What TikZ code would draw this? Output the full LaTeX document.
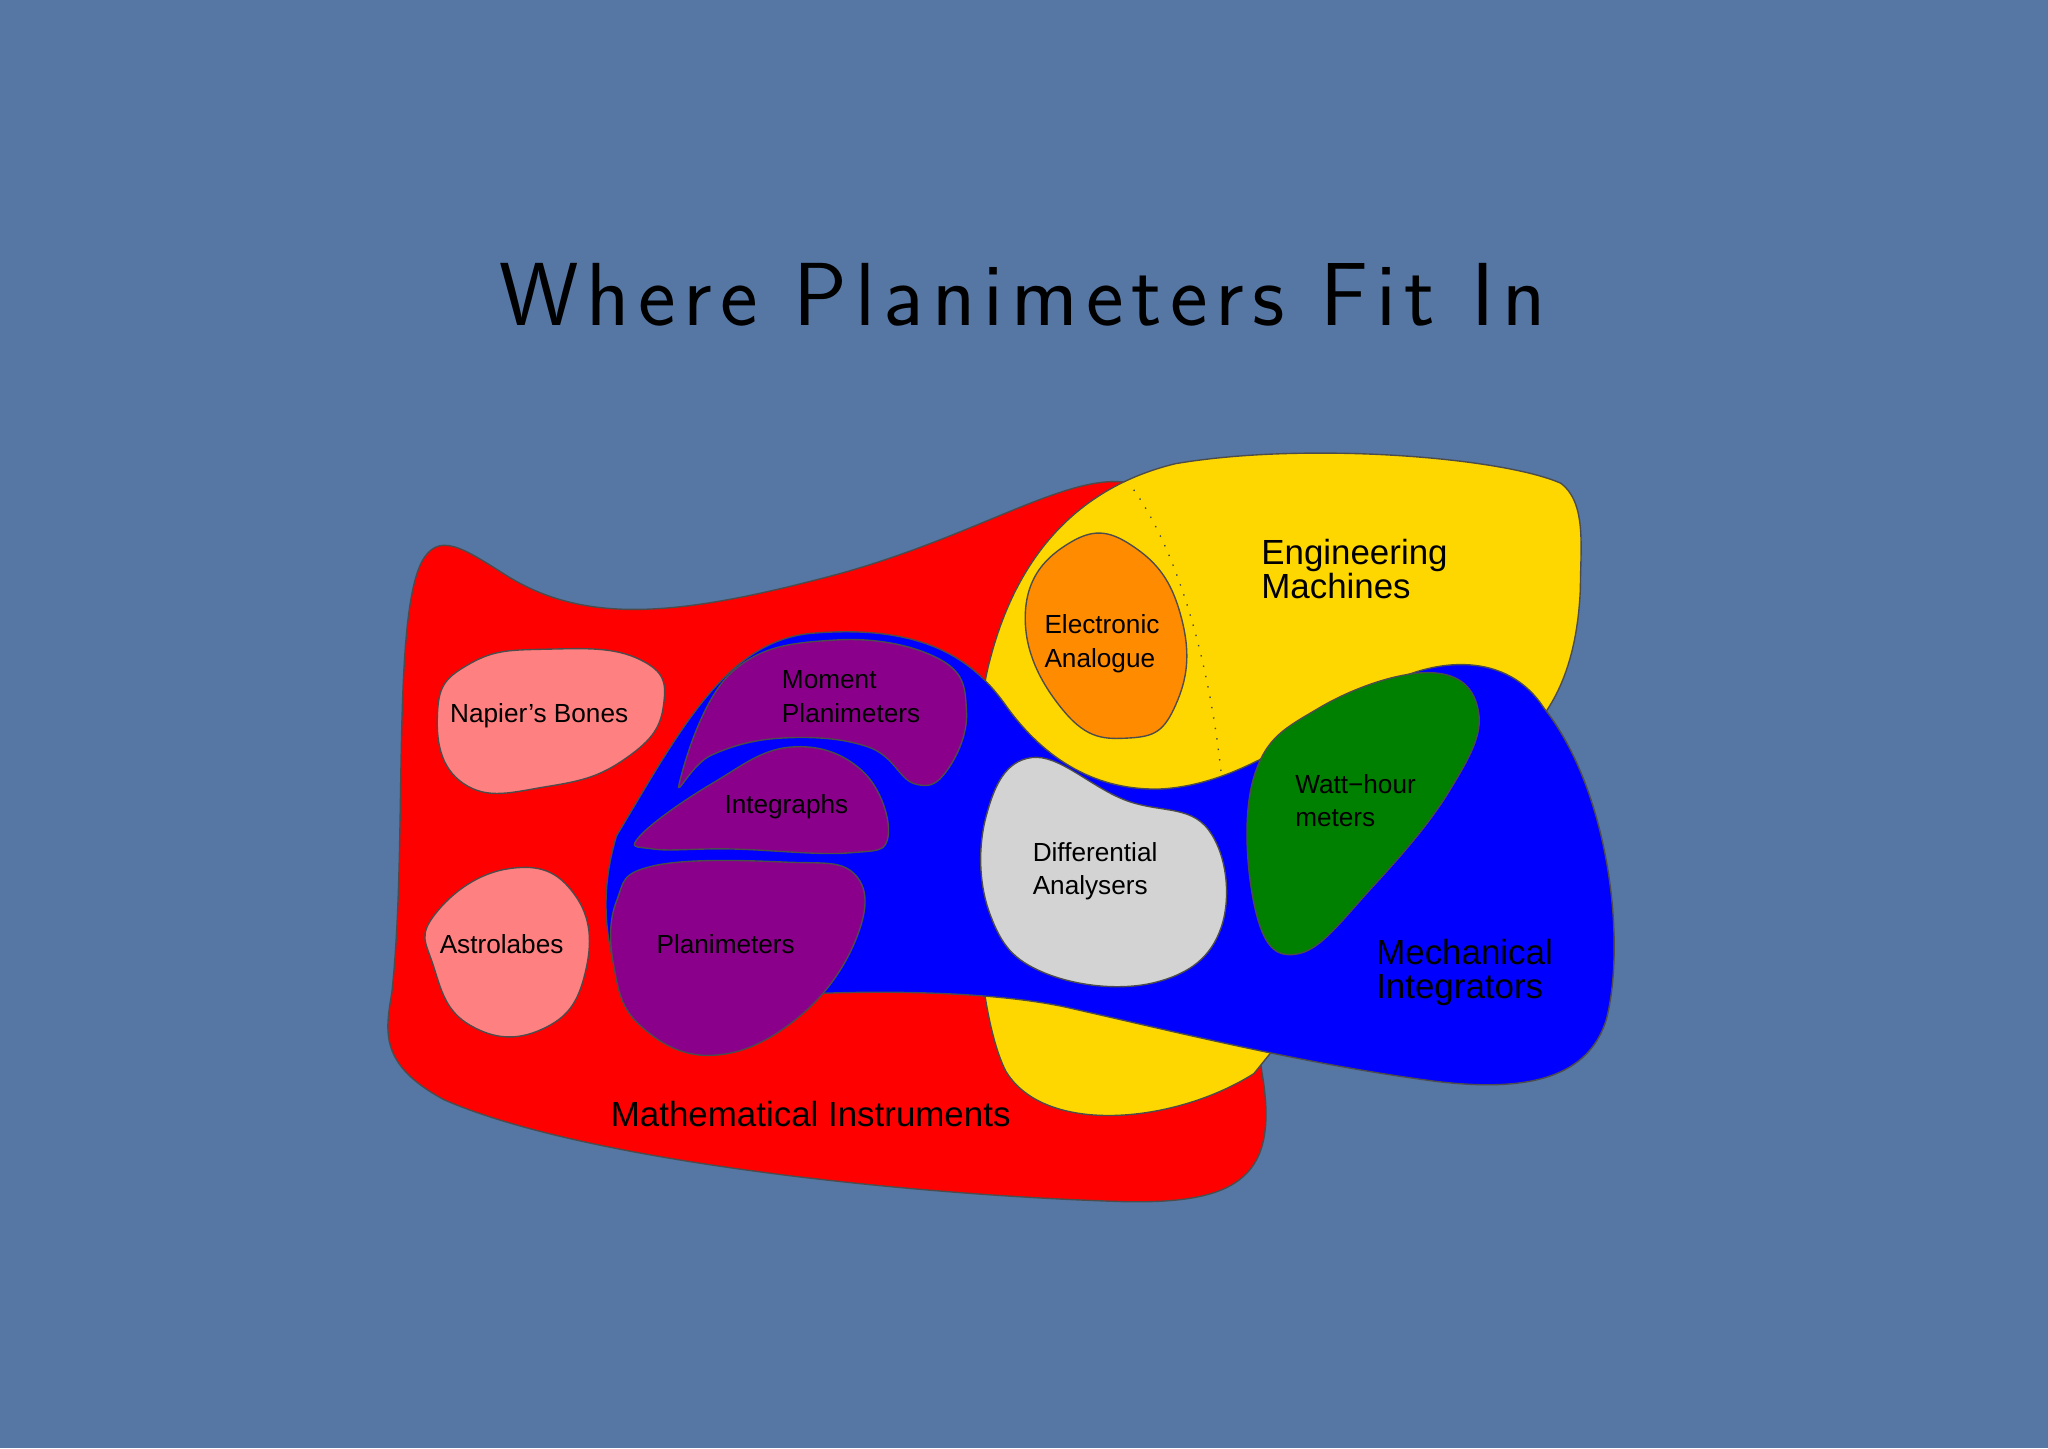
\documentclass[tikz,border=0pt]{standalone}
\usepackage{fontspec}
\setmainfont{Liberation Sans}
\newfontfamily\titlefont[LetterSpace=9]{Latin Modern Sans}
\definecolor{bg}{HTML}{5676A3}
\definecolor{salmon}{HTML}{FF8080}
\definecolor{purp}{HTML}{8B008B}
\definecolor{gold}{HTML}{FFD700}
\definecolor{orng}{HTML}{FF8C00}
\definecolor{grn}{HTML}{008000}
\definecolor{lgray}{HTML}{D3D3D3}
\begin{document}
\begin{tikzpicture}[x=0.01cm,y=-0.01cm,
  blob/.style={draw=black!70,line width=0.3pt},
  lab/.style={font=\fontsize{5.7}{7.3}\selectfont,align=left,inner sep=0},
  big/.style={font=\fontsize{7.6}{7.4}\selectfont,align=left,inner sep=0}]
\fill[bg] (0,0) rectangle (1568,1109);
\useasboundingbox (0,0) rectangle (1568,1109);
\node[font=\titlefont\fontsize{19.5}{20}\selectfont] (title) at (783,226) {Where Planimeters Fit In};
% red
\path[blob,fill=red] (322,432) .. controls (335,405) and (355,420) .. (390,442) .. controls (450,478) and (520,472) .. (640,440) .. controls (750,410) and (820,360) .. (866,370) -- (940,600) -- (966,820) .. controls (980,900) and (950,922) .. (860,920) .. controls (700,915) and (450,890) .. (340,842) .. controls (290,815) and (295,790) .. (300,760) .. controls (312,650) and (300,480) .. (322,432) -- cycle;
% yellow
\path[blob,fill=gold] (758,505) .. controls (780,420) and (830,372) .. (900,355) .. controls (1000,338) and (1150,350) .. (1195,370) .. controls (1215,385) and (1210,420) .. (1210,450) .. controls (1208,500) and (1195,530) .. (1180,550) -- (960,822) .. controls (900,860) and (800,870) .. (770,820) .. controls (740,760) and (740,570) .. (758,505) -- cycle;
\draw[dotted,line width=0.3pt,black!70] (868,375) .. controls (900,420) and (925,500) .. (935,592);
% blue
\path[blob,fill=blue] (472,640) .. controls (520,560) and (555,492) .. (620,485) .. controls (700,478) and (742,500) .. (770,540) .. controls (800,582) and (840,606) .. (890,604) .. controls (950,600) and (1000,560) .. (1050,530) .. controls (1100,500) and (1155,500) .. (1182,542) .. controls (1232,605) and (1245,720) .. (1230,780) .. controls (1215,830) and (1160,835) .. (1100,828) .. controls (1000,815) and (900,790) .. (820,772) .. controls (760,758) and (660,758) .. (600,762) -- (482,772) .. controls (460,722) and (460,680) .. (472,640) -- cycle;
% inner blobs
\path[blob,fill=salmon] plot[smooth cycle,tension=0.8] coordinates{(335,545) (360,508) (420,497) (490,505) (508,540) (480,580) (420,602) (355,600)};
\path[blob,fill=salmon] plot[smooth cycle,tension=0.8] coordinates{(333,700) (390,665) (440,685) (448,745) (415,788) (360,785) (332,740)};
\path[blob,fill=purp] plot[smooth cycle,tension=0.7] coordinates{(520,600) (560,515) (640,490) (720,505) (740,545) (725,590) (700,600) (665,572) (600,565) (545,578)};
\path[blob,fill=purp] plot[smooth cycle,tension=0.7] coordinates{(490,640) (545,600) (605,572) (660,590) (680,640) (650,653) (560,650) (500,650)};
\path[blob,fill=purp] plot[smooth cycle,tension=0.7] coordinates{(472,690) (500,663) (600,660) (655,670) (655,720) (610,780) (545,808) (490,785) (470,740)};
\path[blob,fill=orng] plot[smooth cycle,tension=0.8] coordinates{(785,470) (820,415) (870,420) (905,475) (900,540) (865,565) (815,545)};
\path[blob,fill=lgray] plot[smooth cycle,tension=0.7] coordinates{(755,625) (790,580) (860,612) (925,635) (935,710) (885,752) (800,745) (758,700)};
\path[blob,fill=grn] plot[smooth cycle,tension=0.7] coordinates{(960,595) (1010,542) (1095,515) (1132,545) (1110,605) (1050,680) (995,730) (962,700)};
% labels
\node[lab,anchor=west] (nap) at (344,548) {Napier’s Bones};
\node[lab,anchor=west] (ast) at (336,723) {Astrolabes};
\node[lab,anchor=north west] (mom) at (598,513) {Moment\\Planimeters};
\node[lab,anchor=west] (intg) at (554,618) {Integraphs};
\node[lab,anchor=west] (plan) at (502,723) {Planimeters};
\node[lab,anchor=north west] (ele) at (799,470) {Electronic\\Analogue};
\node[lab,anchor=north west] (dif) at (790,644) {Differential\\Analysers};
\node[lab,anchor=north west] (wat) at (991,592) {Watt−hour\\meters};
\node[big,anchor=north west] (eng) at (965,412) {Engineering\\Machines};
\node[big,anchor=north west] (mech) at (1053,718) {Mechanical\\Integrators};
\node[big,anchor=west] (math) at (467,853) {Mathematical Instruments};
\end{tikzpicture}
\end{document}
